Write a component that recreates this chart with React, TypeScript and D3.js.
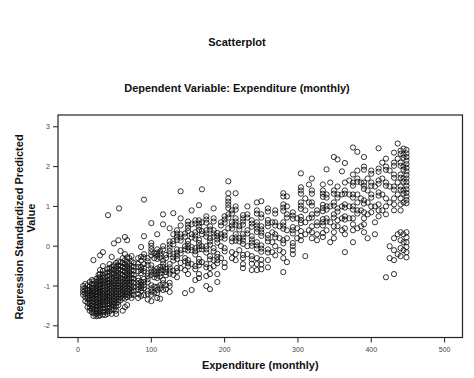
import React from "react";
import * as d3 from "d3";

const chartTitle = "Scatterplot";
const chartSubtitle = "Dependent Variable: Expenditure (monthly)";
const xAxisTitle = "Expenditure (monthly)";
const yAxisTitleLines = ["Regression Standardized Predicted", "Value"];
const xTicks = [0, 100, 200, 300, 400, 500];
const yTicks = [-2, -1, 0, 1, 2, 3];

// columns: [expenditure, predicted values...]
const lowBand: [number, number[]][] = [
  [7, [-1.0, -1.08, -1.15, -1.22]],
  [10, [-0.95, -1.05, -1.12, -1.2, -1.28, -1.38]],
  [13, [-0.98, -1.1, -1.18, -1.25, -1.33, -1.42, -1.53]],
  [16, [-0.9, -1.02, -1.1, -1.17, -1.24, -1.3, -1.38, -1.46, -1.55, -1.62]],
  [19, [-0.85, -0.95, -1.05, -1.12, -1.2, -1.27, -1.34, -1.42, -1.5, -1.58, -1.66]],
  [21, [-0.35, -0.88, -0.96, -1.04, -1.11, -1.18, -1.25, -1.32, -1.39, -1.46, -1.53, -1.6, -1.68, -1.75]],
  [25, [-0.82, -0.9, -0.98, -1.06, -1.13, -1.2, -1.27, -1.34, -1.41, -1.48, -1.55, -1.62, -1.7, -1.76]],
  [28, [-0.72, -0.8, -0.88, -0.96, -1.03, -1.1, -1.17, -1.24, -1.31, -1.38, -1.45, -1.52, -1.6, -1.68, -1.75]],
  [30, [-0.23, -0.6, -0.7, -0.78, -0.86, -0.94, -1.01, -1.08, -1.15, -1.22, -1.29, -1.36, -1.43, -1.5, -1.58, -1.66, -1.74]],
  [34, [-0.15, -0.5, -0.62, -0.72, -0.8, -0.88, -0.96, -1.04, -1.12, -1.19, -1.26, -1.33, -1.4, -1.48, -1.56, -1.64, -1.72]],
  [37, [-0.68, -0.78, -0.86, -0.94, -1.02, -1.1, -1.18, -1.25, -1.32, -1.4, -1.48, -1.56, -1.65, -1.73]],
  [40, [-0.58, -0.66, -0.75, -0.84, -0.92, -1.0, -1.08, -1.16, -1.24, -1.31, -1.38, -1.46, -1.54, -1.62, -1.7]],
  [43, [-0.45, -0.55, -0.65, -0.74, -0.83, -0.91, -0.99, -1.07, -1.15, -1.23, -1.3, -1.38, -1.46, -1.55, -1.64]],
  [46, [-0.27, -0.52, -0.6, -0.7, -0.8, -0.88, -0.96, -1.04, -1.12, -1.2, -1.28, -1.36, -1.44, -1.52, -1.6, -1.7]],
  [49, [0.07, -0.48, -0.58, -0.67, -0.76, -0.85, -0.93, -1.01, -1.09, -1.17, -1.25, -1.33, -1.41, -1.49, -1.58]],
  [52, [-0.42, -0.52, -0.62, -0.72, -0.8, -0.88, -0.96, -1.04, -1.12, -1.2, -1.28, -1.36, -1.44, -1.52, -1.62, -1.7]],
  [55, [0.15, -0.38, -0.48, -0.57, -0.66, -0.75, -0.84, -0.92, -1.0, -1.08, -1.16, -1.24, -1.32, -1.4, -1.48]],
  [58, [-0.12, -0.4, -0.5, -0.6, -0.7, -0.79, -0.88, -0.96, -1.04, -1.12, -1.2, -1.28, -1.36]],
  [61, [-0.3, -0.42, -0.52, -0.62, -0.72, -0.82, -0.9, -0.98, -1.06, -1.14, -1.22, -1.3, -1.62]],
  [64, [0.23, -0.2, -0.35, -0.45, -0.55, -0.65, -0.75, -0.84, -0.92, -1.0, -1.08, -1.16, -1.24, -1.32, -1.53]],
  [67, [0.15, -0.28, -0.4, -0.5, -0.6, -0.7, -0.8, -0.88, -0.96, -1.04, -1.12, -1.2, -1.28, -1.48]],
  [70, [-0.3, -0.45, -0.55, -0.65, -0.74, -0.83, -0.92, -1.0, -1.08, -1.16, -1.24]],
  [73, [-0.25, -0.38, -0.5, -0.6, -0.7, -0.8, -0.89, -0.98, -1.06, -1.14, -1.22, -1.3]],
  [76, [-0.42, -0.52, -0.62, -0.72, -0.82, -0.92, -1.02, -1.12, -1.22]],
];

const midBand: [number, number[]][] = [
  [82, [-0.3, -0.44, -0.52, -0.63, -0.8, -0.87, -0.95, -1.02, -1.1, -1.2, -1.3]],
  [86, [-0.02, -0.27, -0.36, -0.52, -0.6, -0.68, -0.9, -0.97, -1.05, -1.12, -1.25]],
  [90, [1.17, 0.25, -0.2, -0.28, -0.45, -0.55, -0.63, -0.82, -0.9, -0.98, -1.06, -1.23]],
  [95, [-0.3, -0.38, -0.47, -0.68, -0.75, -0.83, -0.91, -1.12, -1.2, -1.34]],
  [100, [0.58, 0.08, 0.01, -0.07, -0.15, -0.23, -0.48, -0.56, -0.64, -0.72, -0.98, -1.06, -1.14, -1.22, -1.38]],
  [104, [-0.18, -0.3, -0.62, -0.7, -0.78, -1.02, -1.17]],
  [108, [0.3, -0.08, -0.16, -0.24, -0.32, -0.56, -0.64, -0.72, -0.8, -1.02, -1.1, -1.18, -1.3]],
  [112, [-0.13, -0.21, -0.29, -0.52, -0.6, -0.68, -0.76, -0.98, -1.06, -1.32]],
  [116, [0.8, 0.55, 0.0, -0.08, -0.36, -0.44, -0.52, -0.6, -0.85, -0.93, -1.1]],
  [120, [-0.22, -0.3, -0.57, -0.65, -0.73, -0.98, -1.08]],
  [125, [0.45, 0.12, 0.04, -0.04, -0.12, -0.2, -0.45, -0.53, -0.61, -0.69, -0.92, -1.0, -1.15]],
  [130, [0.83, 0.3, 0.13, 0.05, -0.2, -0.28, -0.36, -0.62, -0.72]],
  [135, [0.4, 0.32, 0.24, 0.16, -0.08, -0.16, -0.24, -0.32, -0.55, -0.63, -0.78]],
  [140, [1.38, 0.7, 0.52, 0.3, 0.22, 0.14, -0.1, -0.18, -0.42, -0.55]],
  [146, [0.32, 0.24, 0.0, -0.08, -0.3, -0.38, -0.6, -1.18]],
  [150, [0.62, 0.54, 0.46, 0.38, 0.13, 0.05, -0.03, -0.11, -0.35, -0.43, -0.51, -0.7]],
  [155, [0.9, 0.55, 0.3, 0.22, -0.02, -0.1, -0.45, -1.1]],
  [160, [0.65, 0.57, 0.35, 0.27, 0.19, -0.05, -0.13, -0.21, -0.5, -0.58, -0.85]],
  [165, [1.03, 0.65, 0.57, 0.49, 0.41, 0.16, 0.08, 0.0, -0.08, -0.32, -0.4, -0.48, -0.7, -0.8]],
  [169, [1.43, 0.6, 0.38, 0.3, 0.0, -0.08, -0.4]],
  [175, [0.75, 0.67, 0.59, 0.4, 0.32, 0.24, 0.0, -0.08, -0.16, -0.45, -0.53, -0.75, -1.0]],
  [180, [0.5, 0.42, 0.2, 0.12, 0.04, -0.25, -0.33, -0.55, -0.7, -1.08]],
  [185, [0.95, 0.7, 0.62, 0.4, 0.32, 0.24, -0.05, -0.13, -0.35, -0.5]],
  [190, [0.33, 0.25, 0.17, 0.09, -0.19, -0.27, -0.35, -0.43, -0.7, -0.9]],
  [195, [0.6, 0.52, 0.3, 0.22, 0.0, -0.3]],
  [200, [0.75, 0.67, 0.59, 0.35, 0.27, 0.19, -0.05, -0.13, -0.42, -0.53]],
  [205, [1.63, 1.33, 1.2, 1.12, 1.04, 0.96, 0.8, 0.72, 0.45]],
  [210, [0.9, 0.82, 0.6, 0.52, 0.44, 0.2, 0.12, -0.15, -0.3]],
  [215, [1.33, 1.0, 0.92, 0.7, 0.62, 0.54, 0.3, 0.22, 0.14, -0.2, -0.35]],
  [220, [0.5, 0.42, 0.2, 0.12, -0.1]],
  [225, [0.78, 0.7, 0.62, 0.54, 0.3, 0.22, 0.14, 0.06, -0.22, -0.3, -0.45, -0.55]],
  [231, [1.0, 0.8, 0.72, 0.4, 0.32, 0.0, -0.2]],
  [237, [0.65, 0.57, 0.49, 0.25, 0.17, 0.09, 0.01, -0.25, -0.33, -0.44, -0.6]],
  [244, [1.1, 0.9, 0.82, 0.6, 0.52, 0.44, 0.36, 0.1, 0.02, -0.06, -0.3, -0.45, -0.6]],
];

const highBand: [number, number[]][] = [
  [250, [1.13, 0.8, 0.72, 0.5, 0.42, 0.34, 0.26, 0.02, -0.06, -0.14, -0.34, -0.46, -0.58]],
  [259, [0.95, 0.87, 0.66, 0.58, 0.5, 0.28, 0.2, 0.12, -0.08, -0.16, -0.35, -0.53]],
  [265, [0.6, 0.35, 0.1, -0.15]],
  [269, [0.9, 0.82, 0.6, 0.52, 0.3, 0.22, 0.0, -0.23]],
  [275, [0.5, 0.2, -0.1]],
  [280, [1.33, 1.25, 1.05, 0.97, 0.89, 0.6, 0.52, 0.44, 0.15, 0.07, -0.15, -0.3, -0.65]],
  [285, [1.25, 1.0, 0.8, 0.72, 0.4, 0.2, -0.4]],
  [293, [0.85, 0.77, 0.69, 0.48, 0.4, 0.32, 0.08, 0.0, -0.1, -0.2]],
  [299, [0.7, 0.45, 0.2]],
  [304, [1.83, 1.48, 1.4, 1.32, 1.1, 1.02, 0.94, 0.74, 0.66, 0.58, 0.38, 0.26, 0.15]],
  [310, [1.2, 0.9, 0.6, 0.3, -0.25]],
  [315, [1.55, 1.1, 0.7, 0.4]],
  [319, [1.7, 1.4, 1.32, 1.1, 1.02, 0.8, 0.72, 0.5, 0.35, 0.2]],
  [326, [0.9, 0.82, 0.6, 0.52, 0.3, 0.15]],
  [334, [1.55, 1.4, 1.32, 1.24, 1.04, 0.96, 0.88, 0.68, 0.6, 0.52, 0.33, 0.23]],
  [339, [1.93, 1.3, 1.22, 1.0, 0.92, 0.7, 0.62, 0.4]],
  [344, [1.6, 1.0, 0.6, 0.1]],
  [349, [2.24, 1.4, 1.32, 1.1, 1.02, 0.8, 0.72, 0.5, 0.35, 0.2]],
  [354, [2.18, 1.5, 1.3, 1.22, 0.95, 0.87, 0.65, 0.5]],
  [360, [1.88, 1.3, 1.0, 0.7, 0.4]],
  [364, [2.09, 1.6, 1.4, 1.32, 1.05, 0.97, 0.75, 0.67, 0.45, 0.3, -0.15]],
  [370, [1.65, 1.3, 1.0, 0.7]],
  [375, [2.48, 1.8, 1.6, 1.52, 1.3, 1.22, 1.0, 0.92, 0.7, 0.55, 0.4, 0.1]],
  [381, [2.37, 1.9, 1.7, 1.62, 1.3, 1.1, 0.9, 0.82, 0.45]],
  [386, [1.6, 1.2, 0.9, 0.5]],
  [390, [2.24, 2.0, 1.92, 1.6, 1.52, 1.44, 1.15, 1.07, 0.85, 0.7, 0.55, 0.35]],
  [395, [1.7, 1.4, 1.1, 0.8, 0.2]],
  [400, [1.9, 1.82, 1.6, 1.52, 1.3, 1.22, 1.0, 0.85]],
  [405, [1.5, 1.0, 0.6, 0.3]],
  [410, [2.46, 1.95, 1.87, 1.65, 1.57, 1.35, 1.27, 1.05, 0.9, 0.75]],
  [415, [2.1, 1.7, 1.3, 0.9]],
  [420, [2.2, 2.0, 1.92, 1.6, 1.52, 1.2, 1.0, 0.8, -0.78]],
  [425, [1.9, 1.5, 1.1, 0.0, -0.3]],
  [431, [2.35, 2.1, 2.02, 1.8, 1.72, 1.5, 1.42, 1.2, 1.05, 0.9, 0.2, -0.1, -0.35, -0.7]],
  [436, [2.58, 2.2, 1.6, 1.3, 0.3, -0.2]],
  [440, [2.4, 2.32, 2.1, 2.02, 1.8, 1.72, 1.5, 1.42, 1.2, 1.05, 0.9, 0.35, 0.15, -0.05, -0.25]],
  [444, [2.45, 2.3, 2.22, 2.0, 1.92, 1.7, 1.62, 1.4, 1.32, 1.1, 0.3, 0.1, -0.1]],
  [448, [2.42, 2.33, 2.24, 2.15, 2.06, 1.97, 1.88, 1.79, 1.7, 1.61, 1.52, 1.43, 1.34, 1.25, 1.16, 1.08, 0.35, 0.22, 0.1, -0.02, -0.15, -0.28]],
];

const outliers: [number, number][] = [
  [41, 0.78],
  [56, 0.95],
];

const W = 474;
const H = 378;
const frame = { left: 58, right: 462.5, top: 115, bottom: 337.5 };

const font = "Arial, 'Liberation Sans', Helvetica, sans-serif";

export default function App() {
  const x = d3.scaleLinear().domain([0, 500]).range([78, 444.6]);
  const y = d3.scaleLinear().domain([-2, 3]).range([325.8, 126.8]);

  const points: [number, number][] = [];
  for (const band of [lowBand, midBand, highBand]) {
    for (const [xv, ys] of band) {
      for (const yv of ys) points.push([xv, yv]);
    }
  }
  for (const p of outliers) points.push(p);

  const plotCx = (frame.left + frame.right) / 2;

  return (
    <svg
      width={W}
      height={H}
      style={{ position: "absolute", left: 0, top: 0, background: "#fff" }}
      fontFamily={font}
    >
      <rect x={0} y={0} width={W} height={H} fill="#fff" />
      <text x={237} y={46} textAnchor="middle" fontSize={11} fontWeight="bold" fill="#111">
        {chartTitle}
      </text>
      <text x={237} y={92} textAnchor="middle" fontSize={11} fontWeight="bold" fill="#111">
        {chartSubtitle}
      </text>

      <rect
        x={frame.left}
        y={frame.top}
        width={frame.right - frame.left}
        height={frame.bottom - frame.top}
        fill="none"
        stroke="#222"
        strokeWidth={1.2}
      />

      {xTicks.map((t) => (
        <g key={"x" + t}>
          <line x1={x(t)} x2={x(t)} y1={frame.bottom} y2={frame.bottom + 5} stroke="#222" strokeWidth={1} />
          <text x={x(t)} y={352} textAnchor="middle" fontSize={7} fill="#444" style={{ WebkitFontSmoothing: "antialiased" }}>
            {t}
          </text>
        </g>
      ))}
      {yTicks.map((t) => (
        <g key={"y" + t}>
          <line x1={frame.left - 5} x2={frame.left} y1={y(t)} y2={y(t)} stroke="#222" strokeWidth={1} />
          <text x={50} y={y(t) + 2.5} textAnchor="end" fontSize={7} fill="#444">
            {t}
          </text>
        </g>
      ))}

      <g>
        {points.map(([xv, yv], i) => (
          <circle
            key={i}
            cx={x(xv)}
            cy={y(yv)}
            r={2.6}
            fill="none"
            stroke="#111"
            strokeWidth={0.85}
          />
        ))}
      </g>

      <text x={plotCx} y={369} textAnchor="middle" fontSize={11} fontWeight="bold" fill="#111">
        {xAxisTitle}
      </text>
      <text
        transform={`translate(23, 227) rotate(-90)`}
        textAnchor="middle"
        fontSize={11}
        fontWeight="bold"
        fill="#111"
      >
        {yAxisTitleLines[0]}
      </text>
      <text
        transform={`translate(35, 218) rotate(-90)`}
        textAnchor="middle"
        fontSize={11}
        fontWeight="bold"
        fill="#111"
      >
        {yAxisTitleLines[1]}
      </text>
    </svg>
  );
}
